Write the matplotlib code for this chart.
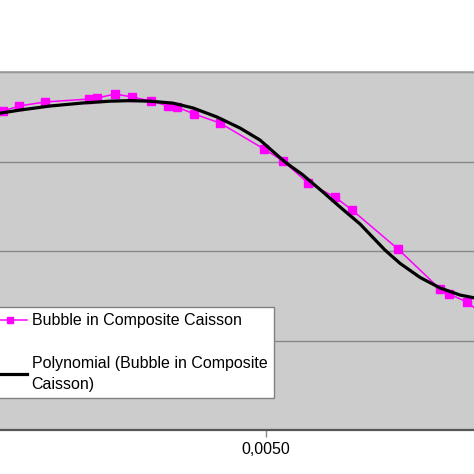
import matplotlib
matplotlib.use("Agg")
import matplotlib.pyplot as plt

# measured series (x in units, y in grid units)
bubble_x = [0.000056, 0.000357, 0.000846, 0.001673, 0.001823, 0.002162, 0.002481,
            0.002838, 0.003158, 0.003327, 0.003647, 0.004135, 0.004962, 0.005320,
            0.005789, 0.006297, 0.006617, 0.007481, 0.008271, 0.008440, 0.008778,
            0.009211]
bubble_y = [3.564, 3.620, 3.665, 3.698, 3.709, 3.754, 3.721, 3.676, 3.620, 3.609,
            3.531, 3.430, 3.140, 3.006, 2.760, 2.603, 2.458, 2.022, 1.575, 1.520,
            1.430, 1.229]

# polynomial trendline as drawn in the picture
poly_x = [-0.000094, 0.000376, 0.000940, 0.001560, 0.002068, 0.002444, 0.002820,
          0.003252, 0.003628, 0.004079, 0.004511, 0.004887, 0.005357, 0.005695,
          0.006071, 0.006391, 0.006767, 0.007237, 0.007519, 0.007895, 0.008271,
          0.008647, 0.009023]
poly_y = [3.531, 3.575, 3.620, 3.654, 3.674, 3.680, 3.674, 3.652, 3.598, 3.497,
          3.374, 3.240, 2.994, 2.849, 2.659, 2.492, 2.302, 2.010, 1.862, 1.705,
          1.587, 1.508, 1.464]

xticks = [0.005]
xtick_labels = ["0,0050"]
yticks = [0, 1, 2, 3, 4]

plt.rcParams["font.family"] = ["Liberation Sans", "DejaVu Sans"]

W = H = 474
fig = plt.figure(figsize=(W / 100, H / 100), dpi=100)
ax = fig.add_axes([0.0, (H - 430) / H, 1.0, (430 - 72) / H])
ax.set_facecolor("#cccccc")

ax.plot(bubble_x, bubble_y, color="#ff00ff", lw=1.1, marker="s", ms=5.5,
        mec="#ff00ff", mfc="#ff00ff", label="Bubble in Composite Caisson", zorder=3)
ax.plot(poly_x, poly_y, color="black", lw=2.3, solid_joinstyle="round",
        label="Polynomial (Bubble in Composite\nCaisson)", zorder=4)

ax.set_xlim(0, 474 * 0.005 / 266)
ax.set_ylim(0, 4)
ax.set_xticks(xticks)
ax.set_xticklabels(xtick_labels, fontsize=11.5)
ax.set_yticks(yticks)
ax.tick_params(axis="y", left=False, labelleft=False)
ax.tick_params(axis="x", direction="out", length=5, width=1, color="#888888", pad=4)
ax.yaxis.grid(True, color="#888888", lw=1)
ax.set_axisbelow(True)

for s in ("left", "right"):
    ax.spines[s].set_visible(False)
ax.spines["top"].set_color("#999999")
ax.spines["top"].set_linewidth(1.2)
ax.spines["bottom"].set_color("#555555")
ax.spines["bottom"].set_linewidth(1.6)

leg = ax.legend(loc="upper left", bbox_to_anchor=(-13 / W, 1 - 307 / H),
                bbox_transform=fig.transFigure, borderaxespad=0, borderpad=0.4,
                handlelength=2.1, handletextpad=0.3, labelspacing=1.75,
                fontsize=11.5, fancybox=False, framealpha=1, markerscale=0.8)
leg.get_frame().set_edgecolor("#808080")
leg.get_frame().set_linewidth(1.0)
for t in leg.get_texts():
    t.set_linespacing(1.45)

fig.savefig("out.png", dpi=100)
